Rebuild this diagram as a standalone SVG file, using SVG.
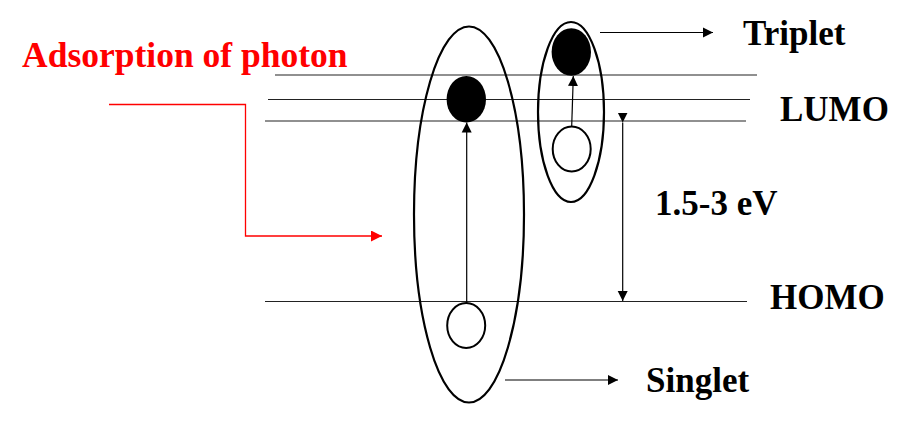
<svg xmlns="http://www.w3.org/2000/svg" width="912" height="422" viewBox="0 0 912 422">
<style>
.lvl{stroke:#222;stroke-width:1.2;fill:none}
.ell{stroke:#000;stroke-width:2.2;fill:none}
.dot{fill:#000}
.hole{fill:#fff;stroke:#000;stroke-width:2}
.arr{stroke:#000;stroke-width:1.2;fill:none}
.lbl{font-family:"Liberation Serif","Times New Roman",serif;font-weight:bold;font-size:35px;fill:#000}
</style>
<defs>
<marker id="ah" viewBox="0 0 10 10" refX="10" refY="5" markerWidth="10" markerHeight="11" markerUnits="userSpaceOnUse" orient="auto">
<path d="M0,0 L10,5 L0,10 Z" fill="#000"/>
</marker>
<marker id="ahr" viewBox="0 0 10 10" refX="10" refY="5" markerWidth="12" markerHeight="11" markerUnits="userSpaceOnUse" orient="auto">
<path d="M0,0 L10,5 L0,10 Z" fill="#f00"/>
</marker>
</defs>
<g id="levels">
<line class="lvl" x1="275" y1="75" x2="757" y2="75"/>
<line class="lvl" x1="268" y1="99.5" x2="750" y2="99.5"/>
<line class="lvl" x1="265" y1="121" x2="746" y2="121"/>
<line class="lvl" x1="265" y1="301.5" x2="747" y2="301.5"/>
</g>
<g id="singlet">
<ellipse class="ell" cx="469" cy="214.5" rx="55" ry="188"/>
<ellipse class="dot" cx="466.3" cy="99.3" rx="19.7" ry="23.3"/>
<ellipse class="hole" cx="466.2" cy="325.5" rx="19" ry="22.5"/>
</g>
<g id="triplet">
<ellipse class="ell" cx="571" cy="112" rx="33" ry="90"/>
<ellipse class="dot" cx="571.3" cy="52" rx="19.7" ry="23.8"/>
<ellipse class="hole" cx="571.7" cy="149" rx="19" ry="22.5"/>
</g>
<g id="labels">
<text x="22" y="66.5" class="lbl" style="font-size:35.5px;fill:#f00">Adsorption of photon</text>
<text x="743" y="45" class="lbl">Triplet</text>
<text x="780" y="121" class="lbl">LUMO</text>
<text x="655" y="215" class="lbl">1.5-3 eV</text>
<text x="770" y="309" class="lbl">HOMO</text>
<text x="646" y="392" class="lbl">Singlet</text>
</g>
<g id="connectors">
<line class="arr" x1="466.7" y1="303" x2="466.7" y2="122.5" marker-end="url(#ah)"/>
<line class="arr" x1="571.7" y1="126.5" x2="573.3" y2="76" marker-end="url(#ah)"/>
<line class="arr" x1="622.7" y1="122.5" x2="622.7" y2="301" marker-start="url(#ah)" marker-end="url(#ah)"/>
<line class="arr" x1="600" y1="32.5" x2="713" y2="32.5" marker-end="url(#ah)"/>
<line class="arr" x1="505" y1="380" x2="618" y2="380" marker-end="url(#ah)"/>
<polyline points="109,104.5 245.5,104.5 245.5,236 382,236" fill="none" stroke="#f00" stroke-width="1.3" marker-end="url(#ahr)"/>
</g>
</svg>
